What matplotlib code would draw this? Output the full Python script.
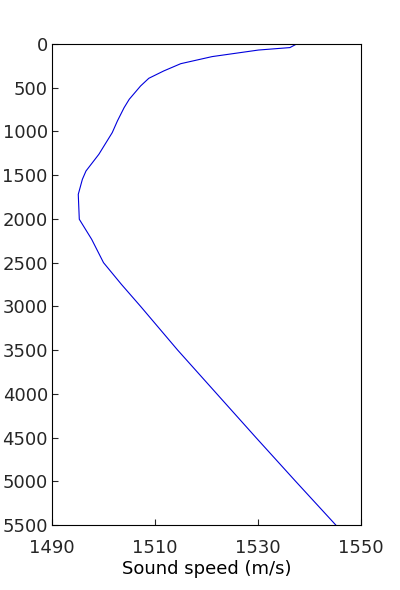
import matplotlib
matplotlib.use("Agg")
import matplotlib.pyplot as plt

depth = [0, 41, 69, 144, 225, 308, 392, 480, 632, 728, 880, 1013, 1261, 1452, 1547, 1719, 2004, 2233, 2500, 2750, 3000, 3500, 4000, 4500, 5000, 5500]
speed = [1537.5, 1536.2, 1530.1, 1521.1, 1515.0, 1511.7, 1508.8, 1507.2, 1505.0, 1504.0, 1502.7, 1501.7, 1499.1, 1496.6, 1495.9, 1495.1, 1495.3, 1497.7, 1500.0, 1503.5, 1507.2, 1514.4, 1522.0, 1529.6, 1537.3, 1545.1]
xticks = [1490, 1510, 1530, 1550]
yticks = [0, 500, 1000, 1500, 2000, 2500, 3000, 3500, 4000, 4500, 5000, 5500]

fig = plt.figure(figsize=(4, 5.9), dpi=100)
ax = fig.add_axes([52/400, 1-525/590, 309/400, 481/590])
ax.plot(speed, depth, color='#0000dd', lw=0.8)
ax.set_xlim(1490, 1550)
ax.set_ylim(5500, 0)
ax.set_xticks(xticks)
ax.set_yticks(yticks)
ax.tick_params(labelsize=13, direction='in', length=4, colors='#262626')
ax.tick_params(axis='x', pad=10)
ax.tick_params(axis='y', pad=3)
ax.set_xlabel('Sound speed (m/s)', fontsize=13, labelpad=2)
fig.savefig('out.png')
